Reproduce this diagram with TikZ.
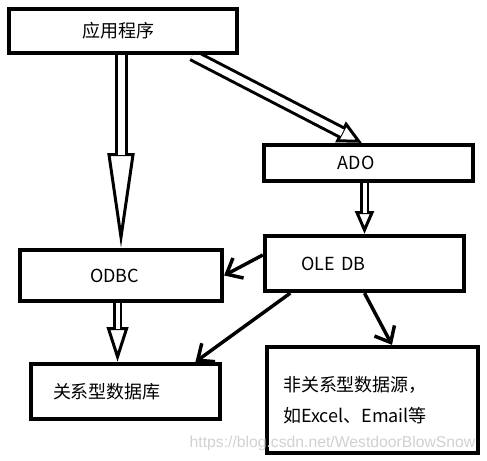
\documentclass[tikz,border=0pt]{standalone}
\usepackage{fontspec}
\newfontfamily\cjk{Noto Sans CJK SC}
\newfontfamily\wmfont{Liberation Sans}
\usetikzlibrary{arrows.meta,calc,backgrounds}

\tikzset{
  box/.style={draw, fill=white, line width=3.2pt, align=left, inner ysep=0pt,
    font=\cjk\fontsize{13.5}{17}\selectfont},
  wide shaft/.style={line width=2.25pt, double, double distance=5.25pt},
  thin shaft/.style={line width=1.9pt, double, double distance=3pt},
  single/.style={line width=2.6pt, -{Straight Barb[length=10pt,width=17pt]}},
}

% hollow arrow: from, to, head length, head width, shaft style
\newcommand{\hollowarrow}[5]{%
  \draw[line width=2.25pt, -{Triangle[open,length=#3,width=#4]}] ($(#2)!#3!(#1)$) -- (#2);
  \draw[#5, shorten >=#3-1.5pt] (#1) -- (#2);
}

\begin{document}
\begin{tikzpicture}[x=0.75pt, y=-0.75pt]
    \useasboundingbox (0,0) rectangle (487,461);

    % boxes
    \node[box, inner xsep=55.5pt, text width=60pt, minimum height=33pt] (app) at (123,31) {应用程序};
    \node[box, inner xsep=55.5pt, text width=45.75pt, minimum height=27pt] (ado) at (368.5,163) {ADO};
    \node[box, inner xsep=27.4pt, text width=94.5pt, minimum height=41.25pt] (oledb) at (364.5,263.5) {OLE DB};
    \node[box, inner xsep=52.5pt, text width=46.5pt, minimum height=38.25pt] (odbc) at (121,275.5) {ODBC};
    \node[box, inner xsep=16.5pt, text width=108.75pt, minimum height=41.25pt] (rdb) at (125.5,391.5) {关系型数据库};
    \node[box, inner xsep=12pt, text width=134.25pt, minimum height=79.5pt,
      font=\cjk\fontsize{13.5}{23}\selectfont] (nonrel) at (372.5,400) {非关系型数据源，\\如Excel、Email等};

    % arrow ends
    \coordinate (appout) at (odbc.north |- app.south);
    \coordinate (appright) at ([xshift=-35pt]app.south east);
    \coordinate (adoin) at ([xshift=-5pt]ado.north);
    \coordinate (adoout) at (oledb.north |- ado.south);
    \coordinate (odbcout) at ([xshift=-2.6pt]odbc.south);
    \coordinate (rdbin) at (odbcout |- rdb.north);

    \begin{scope}[on background layer]
    % hollow arrows
    \hollowarrow{appout}{odbc.north}{71pt}{20pt}{wide shaft}
    \hollowarrow{appright}{adoin}{18pt}{17pt}{wide shaft}
    \hollowarrow{adoout}{oledb.north}{17pt}{14pt}{thin shaft}
    \hollowarrow{odbcout}{rdbin}{26pt}{16pt}{thin shaft}

    % plain arrows
    \draw[single] ([yshift=6.4pt]oledb.west) -- (odbc.east);
    \draw[single] ([xshift=20.6pt]oledb.south west) -- ([xshift=-20pt]rdb.north east);
    \draw[single] (oledb.south) -- ([xshift=14.6pt]nonrel.north);
    \end{scope}

    % watermark
    \node[text=black!18, font=\wmfont\fontsize{11.8}{13}\selectfont] (mark) at (332.5,443) {https://blog.csdn.net/WestdoorBlowSnow};

\end{tikzpicture}
\end{document}
